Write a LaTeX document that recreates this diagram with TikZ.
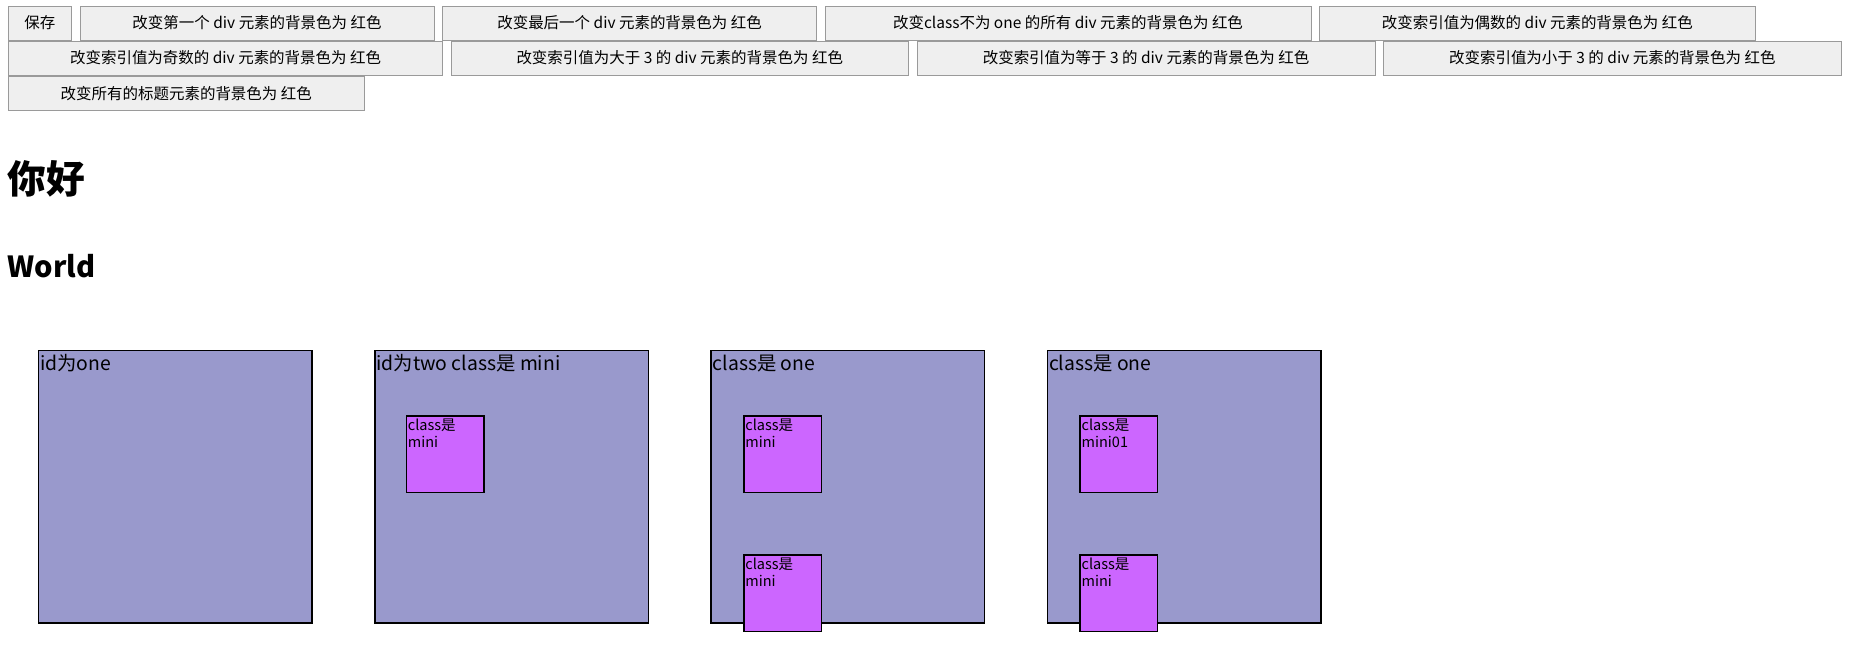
\documentclass[tikz,border=0pt]{standalone}
\usepackage{fontspec}
\setmainfont{Noto Sans CJK SC}
\definecolor{bigc}{HTML}{9999CC}
\definecolor{smallc}{HTML}{CC66FF}
\definecolor{btnfill}{HTML}{EFEFEF}
\definecolor{btnline}{HTML}{9A9A9A}
\tikzset{
  btn/.style={draw=btnline,fill=btnfill,inner sep=0pt,font=\fontsize{9.6pt}{11pt}\selectfont},
  bigbox/.style={draw=black,fill=bigc,line width=0.9pt},
  smallbox/.style={draw=black,fill=smallc,line width=0.9pt},
  bigtxt/.style={anchor=north west,inner sep=0pt,font=\fontsize{12pt}{14pt}\selectfont},
  smalltxt/.style={anchor=north west,inner sep=0pt,align=left,font=\fontsize{9pt}{10.5pt}\selectfont}
}
\newcommand{\mybtn}[5]{\node[btn,minimum width={(#2-#1)*0.75pt},minimum height=21pt] (#4) at ({(#1+#2)/2},#3) {#5};}
\begin{document}
\begin{tikzpicture}[x=0.75pt,y=-0.75pt]
\useasboundingbox (0,0) rectangle (1551,534);
\fill[white] (0,0) rectangle (1551,534);
\mybtn{7}{59}{19}{b1}{保存}
\mybtn{66}{359}{19}{b2}{改变第一个 div 元素的背景色为 红色}
\mybtn{366}{675}{19}{b3}{改变最后一个 div 元素的背景色为 红色}
\mybtn{682}{1084}{19}{b4}{改变class不为 one 的所有 div 元素的背景色为 红色}
\mybtn{1091}{1451}{19}{b5}{改变索引值为偶数的 div 元素的背景色为 红色}
\mybtn{7}{366}{48}{b6}{改变索引值为奇数的 div 元素的背景色为 红色}
\mybtn{373}{751}{48}{b7}{改变索引值为大于 3 的 div 元素的背景色为 红色}
\mybtn{758}{1137}{48}{b8}{改变索引值为等于 3 的 div 元素的背景色为 红色}
\mybtn{1144}{1522}{48}{b9}{改变索引值为小于 3 的 div 元素的背景色为 红色}
\mybtn{7}{301}{77}{b10}{改变所有的标题元素的背景色为 红色}
\node[anchor=west,inner sep=0pt,font=\bfseries\fontsize{24pt}{28pt}\selectfont] (h1) at (6,148) {你好};
\node[anchor=west,inner sep=0pt,font=\bfseries\fontsize{18pt}{22pt}\selectfont] (h2) at (6,220) {World};
% big boxes
\draw[bigbox] (32,290) rectangle (258,515);
\node[bigtxt] (t1) at (33,293) {id为one};
\draw[bigbox] (310,290) rectangle (536,515);
\node[bigtxt] (t2) at (311,293) {id为two class是 mini};
\draw[bigbox] (588,290) rectangle (814,515);
\node[bigtxt] (t3) at (589,293) {class是 one};
\draw[bigbox] (866,290) rectangle (1092,515);
\node[bigtxt] (t4) at (867,293) {class是 one};
% small boxes
\draw[smallbox] (336,344) rectangle (400,407);
\node[smalltxt] (s1) at (337,346) {class是\\mini};
\draw[smallbox] (615,344) rectangle (679,407);
\node[smalltxt] (s2) at (616,346) {class是\\mini};
\draw[smallbox] (615,459) rectangle (679,522);
\node[smalltxt] (s3) at (616,461) {class是\\mini};
\draw[smallbox] (893,344) rectangle (957,407);
\node[smalltxt] (s4) at (894,346) {class是\\mini01};
\draw[smallbox] (893,459) rectangle (957,522);
\node[smalltxt] (s5) at (894,461) {class是\\mini};
\end{tikzpicture}
\end{document}
